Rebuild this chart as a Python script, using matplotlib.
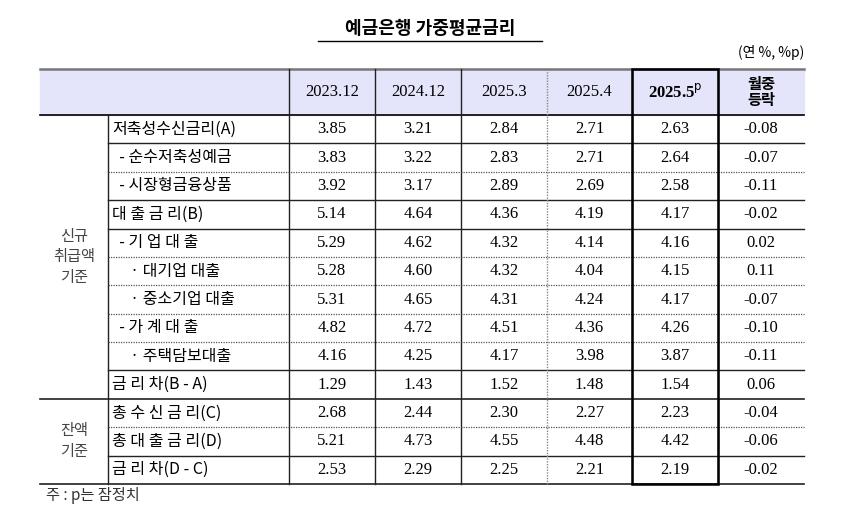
import matplotlib
matplotlib.use("Agg")
import matplotlib.pyplot as plt

title = "예금은행 가중평균금리"
unit = "(연 %, %p)"
columns = ["2023.12", "2024.12", "2025.3", "2025.4", "2025.5", "월중\n등락"]
row_labels = ["저축성수신금리(A)", "  - 순수저축성예금", "  - 시장형금융상품", "대 출 금 리(B)",
              "  - 기 업 대 출", "     · 대기업 대출", "     · 중소기업 대출", "  - 가 계 대 출",
              "     · 주택담보대출", "금 리 차(B - A)", "총 수 신 금 리(C)", "총 대 출 금 리(D)",
              "금 리 차(D - C)"]
groups = [("신규\n취급액\n기준", 0, 9), ("잔액\n기준", 10, 12)]
v2023_12 = ["3.85", "3.83", "3.92", "5.14", "5.29", "5.28", "5.31", "4.82", "4.16", "1.29", "2.68", "5.21", "2.53"]
v2024_12 = ["3.21", "3.22", "3.17", "4.64", "4.62", "4.60", "4.65", "4.72", "4.25", "1.43", "2.44", "4.73", "2.29"]
v2025_3 = ["2.84", "2.83", "2.89", "4.36", "4.32", "4.32", "4.31", "4.51", "4.17", "1.52", "2.30", "4.55", "2.25"]
v2025_4 = ["2.71", "2.71", "2.69", "4.19", "4.14", "4.04", "4.24", "4.36", "3.98", "1.48", "2.27", "4.48", "2.21"]
v2025_5 = ["2.63", "2.64", "2.58", "4.17", "4.16", "4.15", "4.17", "4.26", "3.87", "1.54", "2.23", "4.42", "2.19"]
change = ["-0.08", "-0.07", "-0.11", "-0.02", "0.02", "0.11", "-0.07", "-0.10", "-0.11", "0.06", "-0.04", "-0.06", "-0.02"]
note = "주 : p는 잠정치"
seps = ["s", "d", "s", "s", "d", "d", "d", "d", "s", "S", "d", "s", "S"]

KR = ["Noto Sans CJK KR", "Noto Sans CJK JP", "Noto Sans CJK SC", "DejaVu Sans"]
NUM = ["Liberation Serif", "DejaVu Serif"]

fig = plt.figure(figsize=(8.6, 5.16), dpi=100)
ax = fig.add_axes([0, 0, 1, 1])
ax.set_xlim(0, 860); ax.set_ylim(516, 0); ax.axis("off")

xs = [40, 108, 289, 375, 461, 547, 632, 718, 804]
y0, y1 = 69, 115
rh = (484 - 115) / 13
ys = [y1 + i * rh for i in range(14)]

ax.text(430, 29, title, ha="center", va="center", fontsize=13, fontweight="bold", family=KR)
ax.plot([318, 542], [41, 41], color="k", lw=1)
ax.text(804, 53, unit, ha="right", va="center", fontsize=10, family=KR)

ax.add_patch(plt.Rectangle((40, y0), 764, y1 - y0, color="#e4e4fa", zorder=0))
ax.plot([40, 804], [y0, y0], color="#777", lw=1.8)
ax.plot([40, 804], [y1, y1], color="k", lw=1.2)

for j, c in enumerate(columns):
    xc = (xs[j + 2] + xs[j + 3]) / 2
    if j == 4:
        ax.text(xc, (y0 + y1) / 2, "2025.5$^{\\mathrm{p}}$", ha="center", va="center", fontsize=12,
                family=NUM, fontweight="bold")
    elif j == 5:
        ax.text(xc, (y0 + y1) / 2, c, ha="center", va="center", fontsize=11, family=KR,
                fontweight="bold", linespacing=0.95)
    else:
        ax.text(xc, (y0 + y1) / 2, c, ha="center", va="center", fontsize=12, family=NUM)

cols = [v2023_12, v2024_12, v2025_3, v2025_4, v2025_5, change]
for i, lab in enumerate(row_labels):
    yc = (ys[i] + ys[i + 1]) / 2
    ax.text(112, yc, lab, ha="left", va="center", fontsize=11.5, family=KR)
    for j, col in enumerate(cols):
        xc = (xs[j + 2] + xs[j + 3]) / 2
        ax.text(xc, yc, col[i], ha="center", va="center", fontsize=12, family=NUM)
    y = ys[i + 1]
    s = seps[i]
    if s == "d":
        ax.plot([108, 804], [y, y], color="#555", lw=0.9, ls=(0, (1, 1)))
    elif s == "s":
        ax.plot([108, 804], [y, y], color="#222", lw=1.0)
    else:
        ax.plot([40, 804], [y, y], color="#222", lw=1.2)

for g, a, b in groups:
    ax.text(74, (ys[a] + ys[b + 1]) / 2, g, ha="center", va="center", fontsize=11,
            family=KR, color="#444", linespacing=1.3)

for x in xs[2:-1]:
    if x == 547:
        ax.plot([x, x], [y0, ys[-1]], color="#888", lw=1, ls=(0, (1, 1)))
    else:
        ax.plot([x, x], [y0, ys[-1]], color="#222", lw=1)
ax.plot([108, 108], [y1, ys[-1]], color="#222", lw=1)
ax.add_patch(plt.Rectangle((632, y0), 86, ys[-1] - y0, fill=False, ec="k", lw=1.8, zorder=5))

ax.text(46, 496, note, ha="left", va="center", fontsize=11, family=KR, color="#333")

fig.savefig("out.png", dpi=100)
